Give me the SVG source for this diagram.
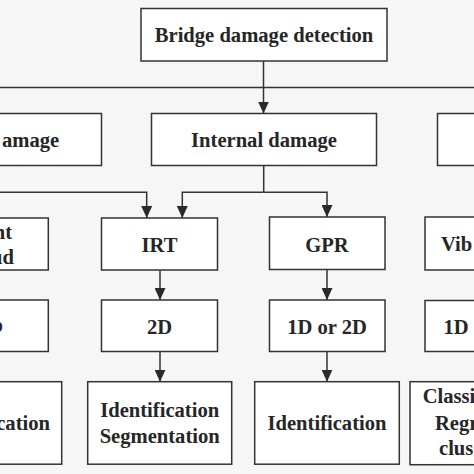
<svg xmlns="http://www.w3.org/2000/svg" width="474" height="474" viewBox="0 0 474 474">
<defs>
<style>
.box{fill:#ffffff;stroke:#333333;stroke-width:1.5}
.t{font-family:"Liberation Serif","Times New Roman",serif;font-weight:bold;font-size:20.6px;fill:#262626}
.c{text-anchor:middle}
.e{text-anchor:end}
.ln{fill:none;stroke:#333333;stroke-width:1.5}
</style>
<marker id="ah" markerUnits="userSpaceOnUse" markerWidth="12" markerHeight="11" refX="12" refY="5.5" orient="auto">
<path d="M0,0 L12,5.5 L0,11 z" fill="#2a2a2a"/>
</marker>
</defs>
<rect width="474" height="474" fill="#f6f6f6"/>
<g id="connectors">
<line class="ln" x1="0" y1="87.5" x2="474" y2="87.5"/>
<line class="ln" x1="263.5" y1="61" x2="263.5" y2="113.5" marker-end="url(#ah)"/>
<path class="ln" d="M0,192.3 H146.7 V218" marker-end="url(#ah)"/>
<line class="ln" x1="263.7" y1="165.5" x2="263.7" y2="192.3"/>
<path class="ln" d="M263.7,192.3 H182.3 V218" marker-end="url(#ah)"/>
<path class="ln" d="M263.7,192.3 H327 V217" marker-end="url(#ah)"/>
<line class="ln" x1="160" y1="270" x2="160" y2="300" marker-end="url(#ah)"/>
<line class="ln" x1="327" y1="269.5" x2="327" y2="300" marker-end="url(#ah)"/>
<line class="ln" x1="160" y1="351.5" x2="160" y2="381.7" marker-end="url(#ah)"/>
<line class="ln" x1="327" y1="351.5" x2="327" y2="381.7" marker-end="url(#ah)"/>
</g>
<g id="root"><rect class="box" x="141" y="8.5" width="246" height="52.5"/><text class="t c" x="264" y="42">Bridge damage detection</text></g>
<g id="external"><rect class="box" x="-130" y="113.5" width="231.5" height="52"/><text class="t" x="2" y="147">amage</text></g>
<g id="internal"><rect class="box" x="151.5" y="113.5" width="225" height="52"/><text class="t c" x="264" y="147">Internal damage</text></g>
<g id="rightTop"><rect class="box" x="437.5" y="113.5" width="100" height="52"/></g>
<g id="leftRow2"><rect class="box" x="-60" y="218" width="108.3" height="52"/><text class="t e" x="12" y="238.5">nt</text><text class="t e" x="14" y="264">ud</text></g>
<g id="irt"><rect class="box" x="101.5" y="218" width="116" height="52"/><text class="t c" x="159.5" y="252">IRT</text></g>
<g id="gpr"><rect class="box" x="269.5" y="217" width="115.5" height="52.5"/><text class="t c" x="327" y="252">GPR</text></g>
<g id="vib"><rect class="box" x="425" y="217" width="100" height="53"/><text class="t" x="441" y="251">Vib</text></g>
<g id="leftRow3"><rect class="box" x="-60" y="300" width="108.3" height="51.5"/><text class="t e" x="3" y="332">p</text></g>
<g id="d2"><rect class="box" x="101.5" y="300" width="116" height="51.5"/><text class="t c" x="159.5" y="333.5">2D</text></g>
<g id="d1or2"><rect class="box" x="269.5" y="300" width="115.5" height="51.5"/><text class="t c" x="327" y="333.5">1D or 2D</text></g>
<g id="d1"><rect class="box" x="425" y="300.5" width="100" height="51"/><text class="t" x="443.5" y="334">1D</text></g>
<g id="leftRow4"><rect class="box" x="-60" y="381.7" width="121.7" height="82.5"/><text class="t e" x="50" y="430">cation</text></g>
<g id="idseg"><rect class="box" x="87.7" y="381.7" width="144" height="82.5"/><text class="t c" x="159.7" y="416.7">Identification</text><text class="t c" x="159.7" y="442.7">Segmentation</text></g>
<g id="ident"><rect class="box" x="254.7" y="381.7" width="144.6" height="82.5"/><text class="t c" x="327" y="430">Identification</text></g>
<g id="rightRow4"><rect class="box" x="410" y="381.7" width="100" height="83"/><text class="t" x="422.7" y="403.3">Classi</text><text class="t" x="435" y="429.5">Regr</text><text class="t" x="439" y="454.5">clus</text></g>
</svg>
